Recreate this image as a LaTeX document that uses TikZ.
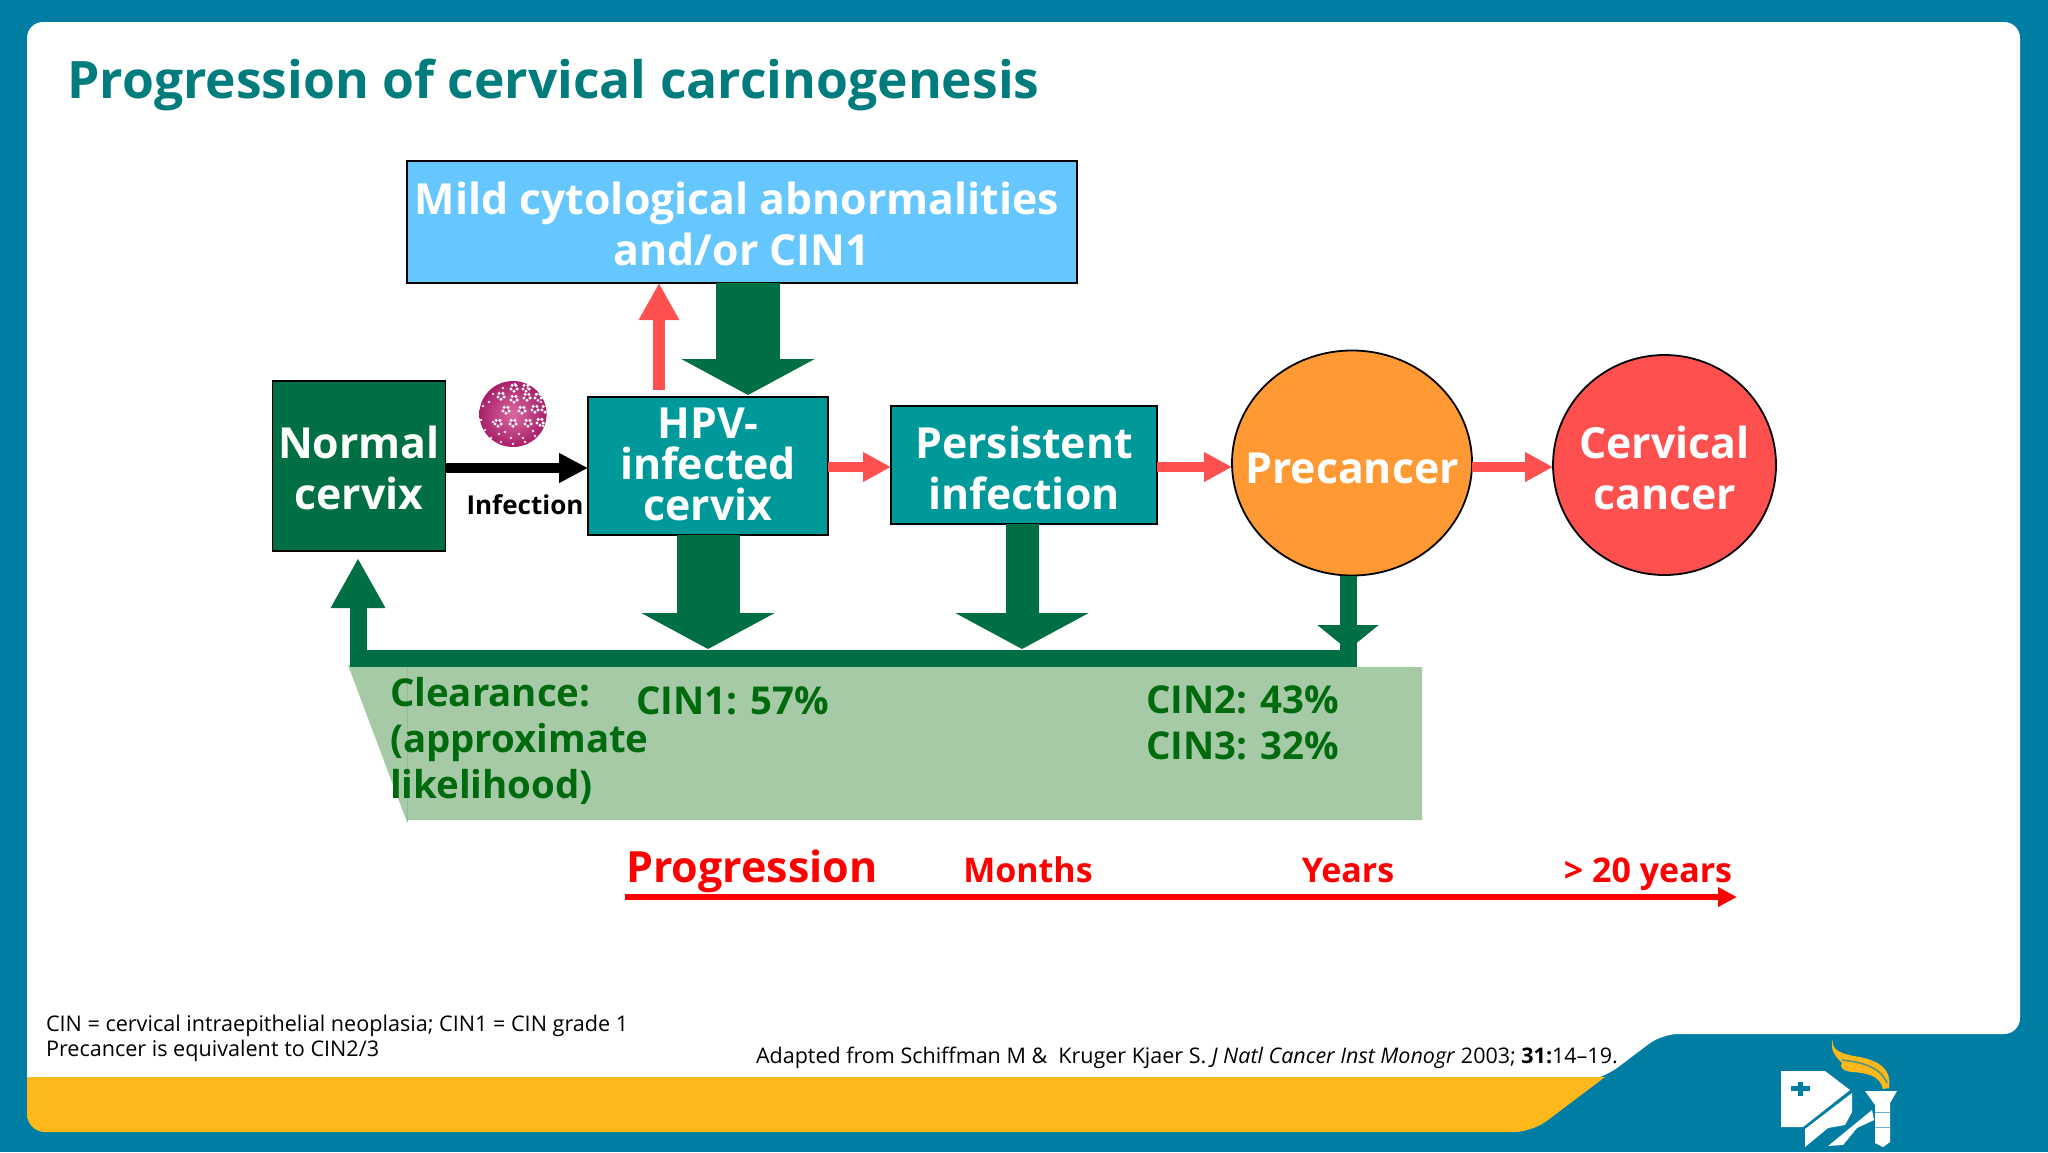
\documentclass[tikz,border=0pt]{standalone}
\usepackage{fontspec}
\setmainfont{Open Sans}
\usetikzlibrary{arrows.meta,shapes.geometric}
\definecolor{bgteal}{HTML}{007DA3}
\definecolor{sun}{HTML}{FDB81B}
\definecolor{titleteal}{HTML}{007C7C}
\definecolor{dkgreen}{HTML}{006F44}
\definecolor{midteal}{HTML}{009999}
\definecolor{skyb}{HTML}{66C7FF}
\definecolor{orangec}{HTML}{FF9933}
\definecolor{redc}{HTML}{FF5050}
\definecolor{pale}{HTML}{A6CAA6}
\definecolor{cleartxt}{HTML}{006B0E}
\definecolor{purered}{HTML}{FF0000}
\definecolor{viruspink}{HTML}{DA6A9F}
\definecolor{virusdark}{HTML}{A8206A}
\newcommand\shiftlines[2]{\raisebox{#1}[\height][\depth]{\begin{tabular}{@{}c@{}}#2\end{tabular}}}
\newcommand\ringlines[2]{\raisebox{#1}[0pt][0pt]{\makebox[0pt]{\begin{tabular}{@{}c@{}}#2\end{tabular}}}}
\tikzset{
  boxbase/.style={draw=black,line width=0.9pt,inner sep=0pt,outer sep=0pt,text=white,align=center,
    font=\fontsize{21.4}{25.5}\selectfont\bfseries},
  rectbox/.style={boxbase,rectangle,minimum width=#1},
  ringbox/.style={boxbase,ellipse},
  bigarrow/.style={draw=dkgreen,line width=#1*0.5pt},
  redarrow/.style={draw=redc,line width=4.6pt,-{Triangle[length=14pt,width=14pt]}},
  clrtext/.style={text=cleartxt,inner sep=0pt,outer sep=0pt,align=left,font=\fontsize{19.2}{23}\selectfont\bfseries},
  progtext/.style={text=purered,inner sep=0pt,outer sep=0pt,anchor=base,font=\fontsize{17}{20}\selectfont\bfseries},
  notetext/.style={text=black,inner sep=0pt,outer sep=0pt,align=left,font=\fontsize{10.8}{12.5}\selectfont}
}
\begin{document}
\begin{tikzpicture}[x=0.5pt,y=-0.5pt]
\useasboundingbox (0,0) rectangle (2048,1152);
\fill[bgteal] (0,0) rectangle (2048,1152);
% panel
\fill[white,rounded corners=8pt] (27,22) -- (2020,22) -- (2020,1034) -- (1662,1034) -- (1605,1077) -- (1500,1100) -- (27,1100) -- cycle;
\fill[sun] (27,1077) -- (1605,1077) [rounded corners=9pt] -- (1532,1132) -- (27,1132) -- (27,1100) [sharp corners] -- cycle;
% title
\node[anchor=base west,inner sep=0pt,text=titleteal,font=\fontsize{25.8}{30}\selectfont\bfseries] (title) at (67,98) {Progression of cervical carcinogenesis};
% pale panel
\fill[pale] (348,665) -- (1422,667) -- (1422,820) -- (407,820) -- (407,822) -- cycle;
\draw[pale!92!black,line width=0.4pt] (407,667) -- (407,822);
% nodes
\node[rectbox=335pt,minimum height=61pt,fill=skyb] (top) at (742,222) {\shiftlines{-4.1pt}{Mild cytological abnormalities\kern5pt\\and/or CIN1}};
\node[rectbox=86.5pt,minimum height=85pt,fill=dkgreen] (normal) at (359,466) {\shiftlines{-3.95pt}{Normal\\cervix}};
\node[rectbox=120pt,minimum height=69pt,fill=midteal] (hpv) at (708,466) {\shiftlines{-1.7pt}{HPV-\\[-5pt]infected\\[-5pt]cervix}};
\node[rectbox=133pt,minimum height=59pt,fill=midteal] (persist) at (1024,465) {\shiftlines{-4.6pt}{Persistent\\infection}};
\node[ringbox,fill=orangec,minimum width=120pt,minimum height=112.5pt] (pre) at (1352,463) {\raisebox{-.47em}[0pt][0pt]{\makebox[0pt]{Precancer}}};
\node[ringbox,fill=redc,minimum width=111.5pt,minimum height=110pt] (cancer) at (1664.5,465) {\ringlines{-9.6pt}{Cervical\\cancer}};
% coordinates
\coordinate (a1) at (748,395);
\coordinate (a2) at (659,283);
\coordinate (a3) at (708,649);
\coordinate (a4) at (1022,649);
\coordinate (a5) at (1348,650);
\coordinate (a6) at (1348,640);
\coordinate (b1) at (1348,658);
\coordinate (b2) at (358,558);
\coordinate (r1) at (659,390);
\coordinate (h1) at (828,467);
\coordinate (h2) at (1157,467);
\coordinate (h3) at (1472,467);
\coordinate (t1) at (891,467);
\coordinate (t2) at (1232,467);
\coordinate (t3) at (1553,467);
% connectors
\draw[draw=black,line width=4.7pt,-{Triangle[length=14.5pt,width=14pt]}] (normal.east |- 0,468) -- (hpv.west |- 0,468);
\draw[redarrow,-{Triangle[length=18.5pt,width=19pt]},line width=6pt] (r1) -- (a2);
\draw[bigarrow=64,-{Triangle[length=18pt,width=66pt]}] (top.south -| a1) -- (a1);
\draw[bigarrow=63,-{Triangle[length=18pt,width=66pt]}] (hpv.south -| a3) -- (a3);
\draw[bigarrow=33,-{Triangle[length=18pt,width=66pt]}] (persist.south -| a4) -- (a4);
\draw[bigarrow=17,-{Triangle[length=12.5pt,width=30pt]}] (pre.south -| a5) -- (a5);
\draw[bigarrow=17,line join=miter,-{Triangle[length=25pt,width=25.5pt]}] (a6) -- (b1) -- (b1 -| b2) -- (b2);
\draw[redarrow] (h1) -- (t1);
\draw[redarrow] (h2) -- (t2);
\draw[redarrow] (h3) -- (t3);
% virus
\shade[inner color=viruspink,outer color=virusdark] (513,414) ellipse (33.6 and 33);
\foreach \a/\b in {-20/-20,-10/-26,2/-30,14/-26,24/-20,-30/-8,-32/6,-28/16,-22/24,-12/28,0/30,12/28,22/22,30/12,-24/-12,-20/8,-8/18,6/20,20/17,28/-12,-14/20,-2/24,10/24}{
  \fill[white!85!viruspink] (513+\a,414+\b) circle (1.3);
}
\foreach \a/\b in {1/-26,13/-26,-12/-18,1/-15,14/-17,25/-17,-7/-4,9/-4,22/-5,32/-5,-15/9,0/9,15/9,27/8}{
  \foreach \r in {18,90,162,234,306}{
    \fill[white] (513+\a,414+\b) ++(\r:3.2) circle (1.7);
  }
  \fill[virusdark] (513+\a,414+\b) circle (1.1);
}
\node[anchor=base,inner sep=0pt,text=black,font=\fontsize{13}{15}\selectfont\bfseries] (inf) at (525,514) {Infection};
% clearance
\node[clrtext,anchor=north west] (clr) at (390,677) {Clearance:\\(approximate\\likelihood)};
\node[clrtext,anchor=base west] (c1) at (636,714) {CIN1: 57\%};
\node[clrtext,anchor=north west] (c2) at (1146,686) {CIN2: 43\%\\CIN3: 32\%};
% progression
\coordinate (p0) at (625,897);
\coordinate (p1) at (1737,897);
\draw[draw=purered,line width=3pt,-{Triangle[length=9.5pt,width=9.3pt]}] (p0) -- (p1);
\node[progtext,font=\fontsize{21.5}{24}\selectfont\bfseries,anchor=base west] (pg) at (626,882) {Progression};
\node[progtext] (m) at (1028,882) {Months};
\node[progtext] (y) at (1348,882) {Years};
\node[progtext] (o) at (1648,882) {> 20 years};
% notes
\node[notetext,anchor=north west] (n1) at (46,1014.6) {CIN = cervical intraepithelial neoplasia; CIN1 = CIN grade 1\\Precancer is equivalent to CIN2/3};
\node[notetext,font=\fontsize{10.75}{12.5}\selectfont,anchor=base west] (n2) at (756,1063) {Adapted from Schiffman M \&\ \ Kruger Kjaer S. \textit{J Natl Cancer Inst Monogr} 2003; \textbf{31:}14–19.};
% logo
\fill[white] (1781,1071) -- (1825,1071) -- (1850,1090) -- (1803,1127) -- (1781,1127) -- cycle;
\fill[bgteal] (1791,1086) rectangle (1810,1090.5);
\fill[bgteal] (1798,1082) rectangle (1802.5,1096);
\fill[white] (1852,1093) -- (1852,1112) -- (1845,1125) -- (1828,1128) -- (1805,1147) -- (1805,1129) -- cycle;
\fill[white] (1872,1110) -- (1874,1120) -- (1857,1128) -- (1843,1145) -- (1828,1146) -- cycle;
\fill[white] (1865,1091) -- (1897,1091) -- (1890,1103) -- (1890,1142) -- (1883,1147) -- (1875,1143) -- (1875,1105) -- cycle;
\draw[bgteal!60!white,line width=0.4pt] (1875,1112) -- (1890,1112) (1875,1127) -- (1890,1127);
\fill[sun] (1833,1039) .. controls (1831,1050) and (1840,1054) .. (1860,1057) .. controls (1878,1061) and (1892,1068) .. (1889,1088) -- (1883,1089) .. controls (1880,1076) and (1868,1073) .. (1852,1072) .. controls (1842,1071) and (1839,1066) .. (1842,1063) .. controls (1836,1057) and (1829,1050) .. (1833,1039) -- cycle;
\draw[bgteal!65!sun,line width=0.8pt] (1842,1060) .. controls (1860,1062) and (1880,1066) .. (1887,1083);
\end{tikzpicture}
\end{document}
